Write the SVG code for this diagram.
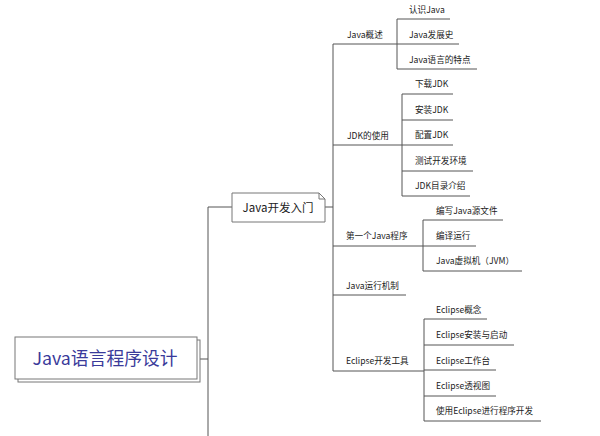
<svg xmlns="http://www.w3.org/2000/svg" width="600" height="436" viewBox="0 0 600 436">
<style>
text{font-family:"Noto Sans CJK SC","Noto Sans",sans-serif;fill:#222;font-size:8.6px}
.c path{fill:none;stroke:#555;stroke-width:1}
.box{fill:#fff;stroke:#777;stroke-width:1}
</style>
<rect width="600" height="436" fill="#fff"/>
<g class="c" id="connectors">
<path d="M197 359H208M208 207V436M208 207H232M325 207H333M333 44V371"/>
<path d="M333 44H397M397 19V69M397 19H450M397 44H459M397 69H477"/>
<path d="M333 145H402M402 94V196M402 94H453M402 120H453M402 145H453M402 171H473M402 196H470"/>
<path d="M333 246H423M423 220V271M423 220H503M423 246H476M423 271H522"/>
<path d="M333 295H406"/>
<path d="M333 371H424M424 319V421M424 319H487M424 345H514M424 370H496M424 396H496M424 421H541"/>
</g>
<g id="root">
<rect class="box" x="18" y="340" width="182" height="42"/>
<rect class="box" x="15" y="337" width="182" height="42"/>
<text x="105" y="365" text-anchor="middle" style="font-size:17.8px;fill:#3a3a9a">Java语言程序设计</text>
</g>
<g id="n1">
<path class="box" d="M232 193H319L325 199V222H232Z"/>
<path d="M319 193V199H325" fill="none" stroke="#777"/>
<text x="278" y="212" text-anchor="middle" style="font-size:11.5px">Java开发入门</text>
</g>
<g id="l2">
<text x="347" y="38">Java概述</text>
<text x="347" y="139">JDK的使用</text>
<text x="346" y="239">第一个Java程序</text>
<text x="346" y="289">Java运行机制</text>
<text x="346" y="364">Eclipse开发工具</text>
</g>
<g id="l3">
<text x="409" y="13">认识Java</text>
<text x="409" y="38">Java发展史</text>
<text x="409" y="63">Java语言的特点</text>
<text x="415" y="87">下载JDK</text>
<text x="415" y="113">安装JDK</text>
<text x="415" y="138">配置JDK</text>
<text x="415" y="164">测试开发环境</text>
<text x="415" y="189">JDK目录介绍</text>
<text x="436" y="214">编写Java源文件</text>
<text x="436" y="239">编译运行</text>
<text x="436" y="264">Java虚拟机（JVM）</text>
<text x="436" y="313">Eclipse概念</text>
<text x="436" y="338">Eclipse安装与启动</text>
<text x="436" y="364">Eclipse工作台</text>
<text x="436" y="389">Eclipse透视图</text>
<text x="436" y="414">使用Eclipse进行程序开发</text>
</g>
</svg>
